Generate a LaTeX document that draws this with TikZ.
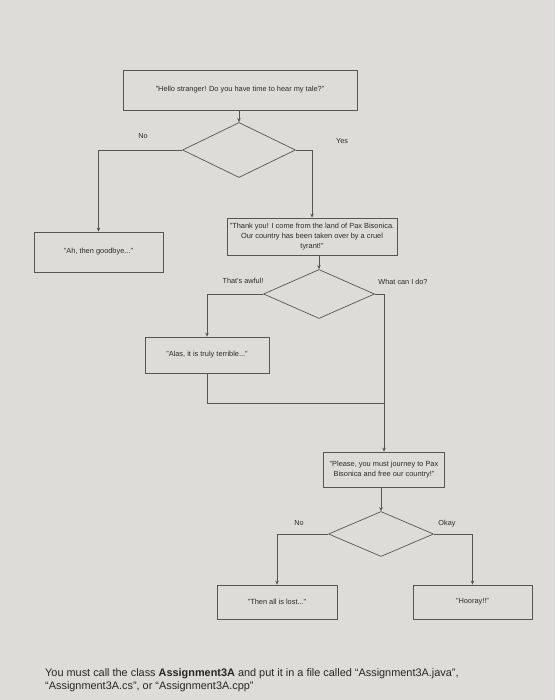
\documentclass[tikz,border=0pt]{standalone}
\usepackage{fontspec}
\setmainfont{Liberation Sans}
\usetikzlibrary{shapes.geometric,arrows.meta}
\definecolor{bg}{HTML}{DDDCD8}
\definecolor{ln}{HTML}{555555}
\definecolor{tx}{HTML}{2A2A2A}
\begin{document}
\begin{tikzpicture}[x=1pt,y=-1pt,
  box/.style={draw=ln, line width=0.7pt, rectangle, inner sep=1pt, text=tx,
    font=\fontsize{7.4}{9.6}\selectfont, align=center},
  dia/.style={draw=ln, line width=0.7pt, diamond, inner sep=0pt},
  conn/.style={draw=ln, line width=0.7pt},
  arr/.style={conn, -{Stealth[length=4pt,width=3.5pt]}},
  lbl/.style={text=tx, font=\fontsize{7.3}{8}\selectfont, inner sep=0pt}]
\fill[bg] (0,0) rectangle (555,700);
\useasboundingbox (0,0) rectangle (555,700);

\node[box, minimum width=234pt, minimum height=40pt] (hello) at (240,90) {"Hello stranger! Do you have time to hear my tale?"};
\node[dia, minimum width=113pt, minimum height=55pt] (d1) at (239,150) {};
\node[box, minimum width=129pt, minimum height=40pt] (ah) at (98.5,252) {"Ah, then goodbye..."};
\node[box, minimum width=170pt, minimum height=37pt, inner sep=0.5pt] (thank) at (312,236.5) {"Thank you! I come from the land of Pax Bisonica.\\Our country has been taken over by a cruel\\tyrant!"};
\node[dia, minimum width=111pt, minimum height=49pt] (d2) at (319,294) {};
\node[box, minimum width=124pt, minimum height=36pt] (alas) at (207,355) {"Alas, it is truly terrible..."};
\node[box, minimum width=121pt, minimum height=35pt] (please) at (384,469.5) {"Please, you must journey to Pax\\Bisonica and free our country!"};
\node[dia, minimum width=105pt, minimum height=45pt] (d3) at (381,534) {};
\node[box, minimum width=120pt, minimum height=34pt] (then) at (277,602) {"Then all is lost..."};
\node[box, minimum width=119pt, minimum height=34pt] (hooray) at (472.5,602) {"Hooray!!"};

\coordinate (merge) at (384,403);

\draw[arr] (hello.south -| d1.north) -- (d1.north);
\draw[arr] (d1.west) -| (ah.north);
\draw[arr] (d1.east) -| (thank.north);
\draw[arr] (thank.south -| d2.north) -- (d2.north);
\draw[arr] (d2.west) -| (alas.north);
\draw[arr] (d2.east) -| (please.north);
\draw[conn] (alas.south) |- (merge);
\draw[arr] (please.south -| d3.north) -- (d3.north);
\draw[arr] (d3.west) -| (then.north);
\draw[arr] (d3.east) -| (hooray.north);

\node[lbl] (lno1) at (143,136) {No};
\node[lbl] (lyes) at (342,141) {Yes};
\node[lbl] (lawful) at (243,281) {That's awful!};
\node[lbl] (lwhat) at (403,282) {What can I do?};
\node[lbl] (lno2) at (299,523) {No};
\node[lbl] (lokay) at (447,524) {Okay};

\node[anchor=north west, inner sep=0pt, text=black!85, align=left,
  font=\fontsize{10.9}{13.3}\selectfont] (note) at (45,668)
  {You must call the class \textbf{Assignment3A} and put it in a file called “Assignment3A.java”,\\“Assignment3A.cs”, or “Assignment3A.cpp”};
\end{tikzpicture}
\end{document}
